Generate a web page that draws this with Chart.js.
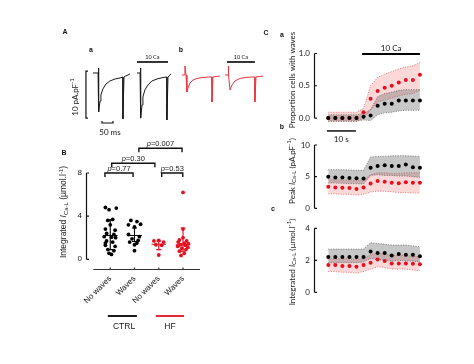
<!DOCTYPE html>
<html>
<head>
<meta charset="utf-8">
<script src="https://cdn.jsdelivr.net/npm/chart.js@4/dist/chart.umd.min.js"></script>
<style>
  body { margin: 0; background: #fff; }
  #page { position: relative; width: 474px; height: 364px; overflow: hidden; background: #fff; }
  canvas { position: absolute; }
</style>
</head>
<body>
<div id="page">
  <canvas id="tracesChart" width="205" height="115" style="left:60px;top:25px"></canvas>
  <canvas id="scatterChart" width="160" height="228" style="left:50px;top:136px"></canvas>
  <canvas id="wavesChart" width="175" height="120" style="left:260px;top:25px"></canvas>
  <canvas id="peakChart" width="175" height="95" style="left:260px;top:125px"></canvas>
  <canvas id="integralChart" width="175" height="125" style="left:260px;top:205px"></canvas>
</div>
<script>
// ---- Panel A: example I_Ca-L sweeps, [time ms, current pA/pF]
const ctrlSweep1 = [[150,0],[173,0],[173,1.06],[177,0],[177,-8.3],[182,-5.96],[186,-4.68],[195,-3.4],[209,-2.34],[227,-1.7],[250,-1.28],[273,-1.06],[286,-0.85],[286,-9.8],[291,-0.85],[300,-0.6],[309,-0.43],[318,-0.2]];
const ctrlSweep2 = [[350,0],[364,0],[364,1.06],[368,0],[368,-9.6],[373,-6.8],[377,-5.1],[386,-3.6],[400,-2.55],[418,-1.7],[441,-1.28],[468,-0.96],[486,-0.85],[486,-10.0],[491,-0.85],[500,-0.43],[505,-0.2]];
const hfSweep1 = [[555,-0.43],[568,-0.43],[568,1.49],[573,-0.43],[577,-4.04],[582,-3.2],[591,-2.13],[605,-1.49],[623,-1.17],[650,-0.96],[673,-0.85],[691,-0.85],[691,-6.17],[695,-0.85],[714,-0.74],[727,-0.64]];
const hfSweep2 = [[750,-0.43],[764,-0.43],[764,1.49],[768,-0.43],[773,-3.62],[782,-2.55],[795,-1.7],[818,-1.17],[845,-0.96],[873,-0.85],[886,-0.85],[886,-6.17],[891,-0.85],[909,-0.74],[923,-0.64]];

// ---- Panel B: integrated I_Ca-L per cell (umol/l)
const groupLabels = ["No waves", "Waves", "No waves", "Waves"];
const ctrlNoWaves = [4.8, 4.75, 4.6, 3.7, 3.6, 3.2, 2.8, 2.7, 2.4, 2.3, 2.1, 2.05, 2.0, 1.7, 1.6, 1.3, 1.2, 0.9, 0.8, 0.55, 0.45, 1.5];
const ctrlNoWavesJitter = [-0.2, 0.25, -0.05, 0.1, -0.1, 0.0, -0.2, 0.2, -0.15, 0.15, -0.25, 0.05, 0.22, -0.15, 0.1, -0.2, 0.2, -0.1, 0.15, -0.05, 0.05, -0.2];
const ctrlWaves = [3.6, 3.5, 3.2, 3.25, 3.0, 2.3, 2.1, 1.9, 1.75, 1.6, 1.5, 1.35, 0.8];
const ctrlWavesJitter = [-0.15, 0.1, -0.25, 0.25, 0.0, -0.25, 0.2, -0.1, 0.15, -0.2, 0.1, 0.0, 0.0];
const hfNoWaves = [1.7, 1.75, 1.6, 1.35, 1.3, 0.4];
const hfNoWavesJitter = [-0.2, 0.0, 0.2, -0.12, 0.12, 0.0];
const hfWaves = [6.2, 2.8, 2.0, 1.8, 1.7, 1.6, 1.5, 1.45, 1.35, 1.3, 1.2, 1.1, 1.0, 0.9, 0.75, 0.55, 0.35];
const hfWavesJitter = [0, 0, 0, -0.15, 0.15, -0.2, 0.05, 0.22, -0.1, 0.1, -0.22, 0.2, -0.05, 0.12, -0.15, 0.05, -0.08];
const groupMean = [2.2, 2.2, 1.4, 1.35];
const groupHigh = [3.65, 2.9, 1.7, 2.9];
const groupLow = [0.9, 1.65, 0.9, 0.75];
const pValues = ["0.77", "0.30", "0.007", "0.53"];
const bTicks = [0, 4, 8];

// ---- Panel C: time course, one point every 2.5 s
const timeS = [0, 2.5, 5, 7.5, 10, 12.5, 15, 17.5, 20, 22.5, 25, 27.5, 30, 32.5];
const wavesCtrl = [0, 0, 0, 0, 0, 0.02, 0.04, 0.19, 0.22, 0.22, 0.27, 0.27, 0.27, 0.27];
const wavesCtrlHi = [0.05, 0.05, 0.05, 0.05, 0.05, 0.07, 0.13, 0.33, 0.38, 0.4, 0.43, 0.44, 0.44, 0.44];
const wavesCtrlLo = [-0.05, -0.05, -0.05, -0.05, -0.05, -0.03, -0.04, 0.05, 0.08, 0.09, 0.11, 0.12, 0.12, 0.12];
const wavesHf = [0, 0, 0, 0, 0, 0.09, 0.3, 0.42, 0.47, 0.5, 0.55, 0.59, 0.59, 0.67];
const wavesHfHi = [0.09, 0.09, 0.09, 0.09, 0.09, 0.15, 0.5, 0.63, 0.68, 0.72, 0.76, 0.79, 0.81, 0.86];
const wavesHfLo = [-0.05, -0.05, -0.05, -0.05, -0.05, 0.0, 0.12, 0.25, 0.28, 0.31, 0.34, 0.37, 0.38, 0.43];
const peakCtrl = [5.0, 4.85, 4.85, 4.8, 4.75, 4.7, 6.4, 6.7, 6.8, 6.7, 6.7, 6.9, 6.5, 6.4];
const peakCtrlHi = [6.1, 6.1, 6.1, 6.05, 6.0, 6.0, 8.1, 8.2, 8.2, 8.3, 8.3, 8.3, 8.25, 8.2];
const peakCtrlLo = [4.0, 4.0, 3.95, 3.9, 3.9, 3.85, 5.2, 5.3, 5.2, 5.2, 5.1, 5.1, 5.0, 4.9];
const peakHf = [3.4, 3.3, 3.25, 3.2, 3.05, 3.3, 3.9, 4.3, 4.2, 4.05, 3.95, 4.1, 4.05, 4.05];
const peakHfHi = [4.5, 4.5, 4.45, 4.45, 4.4, 4.5, 5.3, 5.6, 5.6, 5.5, 5.5, 5.6, 5.6, 5.6];
const peakHfLo = [2.3, 2.3, 2.2, 2.2, 2.1, 2.2, 2.6, 2.7, 2.7, 2.6, 2.5, 2.5, 2.4, 2.4];
const integCtrl = [2.2, 2.2, 2.2, 2.2, 2.2, 2.2, 2.55, 2.45, 2.45, 2.3, 2.4, 2.35, 2.35, 2.25];
const integCtrlHi = [2.7, 2.7, 2.7, 2.7, 2.7, 2.7, 3.1, 3.05, 3.0, 2.95, 2.95, 2.95, 2.9, 2.85];
const integCtrlLo = [1.85, 1.85, 1.85, 1.85, 1.85, 1.9, 2.1, 2.05, 2.0, 1.95, 2.0, 1.95, 1.95, 1.9];
const integHf = [1.7, 1.7, 1.65, 1.65, 1.6, 1.7, 1.85, 2.05, 1.95, 1.8, 1.8, 1.8, 1.78, 1.75];
const integHfHi = [2.1, 2.1, 2.1, 2.1, 2.05, 2.1, 2.35, 2.45, 2.4, 2.3, 2.3, 2.3, 2.25, 2.2];
const integHfLo = [1.3, 1.3, 1.25, 1.25, 1.2, 1.3, 1.45, 1.6, 1.55, 1.45, 1.45, 1.45, 1.4, 1.35];
const waveTicks = [0, 0.5, 1];
const peakTicks = [0, 5, 10];
const integTicks = [0, 2, 4];

const RED = "#e3101f";
const TRACE_RED = "#e8343f";
const SANS = "'Liberation Sans', Arial, sans-serif";
const CAL = "Lato, 'Open Sans', sans-serif";

// text with italic / sub / superscript pieces, centred on (x, y)
function richText(ctx, parts, x, y, size, family, rotate) {
  const fontFor = (p) => (p.i ? "italic " : "") + (p.sub || p.sup ? Math.round(size * 0.72) : size) + "px " + family;
  ctx.save();
  ctx.translate(x, y);
  if (rotate) ctx.rotate(-Math.PI / 2);
  let total = 0;
  parts.forEach((p) => { ctx.font = fontFor(p); total += ctx.measureText(p.t).width; });
  let cx = -total / 2;
  ctx.textAlign = "left";
  ctx.textBaseline = "middle";
  ctx.fillStyle = "#222";
  parts.forEach((p) => {
    ctx.font = fontFor(p);
    const dy = p.sub ? size * 0.3 : p.sup ? -size * 0.35 : 0;
    ctx.fillText(p.t, cx, dy);
    cx += ctx.measureText(p.t).width;
  });
  ctx.restore();
}

function label(ctx, text, x, y, font, align) {
  ctx.save();
  ctx.font = font;
  ctx.fillStyle = "#111";
  ctx.textAlign = align || "center";
  ctx.textBaseline = "middle";
  ctx.fillText(text, x, y);
  ctx.restore();
}

function hLine(ctx, x1, x2, y, w, color) {
  ctx.save();
  ctx.strokeStyle = color || "#000";
  ctx.lineWidth = w;
  ctx.beginPath();
  ctx.moveTo(x1, y);
  ctx.lineTo(x2, y);
  ctx.stroke();
  ctx.restore();
}

// y axis line spanning only the tick range, with short inward ticks
function inwardYAxis(ticks) {
  return {
    id: "inwardYAxis",
    afterDraw(chart) {
      const { ctx, chartArea, scales: { y } } = chart;
      const x0 = Math.round(chartArea.left) + 0.5;
      ctx.save();
      ctx.strokeStyle = "#111";
      ctx.lineWidth = 1.2;
      ctx.beginPath();
      ctx.moveTo(x0, y.getPixelForValue(ticks[0]));
      ctx.lineTo(x0, y.getPixelForValue(ticks[ticks.length - 1]));
      ticks.forEach((v) => {
        const py = y.getPixelForValue(v);
        ctx.moveTo(x0, py);
        ctx.lineTo(x0 + 2.5, py);
      });
      ctx.stroke();
      ctx.restore();
    },
  };
}

// ---------------- Panel A ----------------
const toXY = (arr) => arr.map((p) => ({ x: p[0], y: p[1] }));
const traceSet = (arr, color) => ({ data: toXY(arr), borderColor: color, borderWidth: 1, pointRadius: 0, tension: 0, fill: false });

new Chart(document.getElementById("tracesChart"), {
  type: "line",
  data: {
    datasets: [
      traceSet(ctrlSweep1, "#1a1a1a"),
      traceSet(ctrlSweep2, "#1a1a1a"),
      traceSet(hfSweep1, TRACE_RED),
      traceSet(hfSweep2, TRACE_RED),
    ],
  },
  options: {
    responsive: false,
    animation: false,
    layout: { padding: 0 },
    plugins: { legend: { display: false }, tooltip: { enabled: false } },
    scales: {
      x: { type: "linear", display: false, min: 0, max: 932 },
      y: { display: false, min: -14.26, max: 10.21 },
    },
  },
  plugins: [{
    id: "panelA",
    afterDraw(chart) {
      const { ctx, scales: { x, y } } = chart;
      label(ctx, "A", 5, 7, "bold 7px " + SANS);
      label(ctx, "a", 31, 25, "bold 7px " + SANS);
      label(ctx, "b", 121, 25, "bold 7px " + SANS);

      // 10 pA/pF scale bar
      const sx = x.getPixelForValue(118);
      const top = y.getPixelForValue(0.4), bot = y.getPixelForValue(-9.6);
      ctx.save();
      ctx.strokeStyle = "#111";
      ctx.lineWidth = 1.2;
      ctx.beginPath();
      ctx.moveTo(sx + 2, top); ctx.lineTo(sx, top); ctx.lineTo(sx, bot); ctx.lineTo(sx + 2, bot);
      // 50 ms scale bar
      const by = y.getPixelForValue(-10.64);
      ctx.moveTo(x.getPixelForValue(191), by - 2);
      ctx.lineTo(x.getPixelForValue(191), by);
      ctx.lineTo(x.getPixelForValue(241), by);
      ctx.lineTo(x.getPixelForValue(241), by - 2);
      ctx.stroke();
      ctx.restore();
      richText(ctx, [{ t: "10 pA.pF" }, { t: "-1", sup: 1 }], x.getPixelForValue(68), y.getPixelForValue(-5.1), 8, CAL, true);
      label(ctx, "50 ms", x.getPixelForValue(227), y.getPixelForValue(-12.6), "8px " + CAL);

      // 10 Ca bars
      const cy = y.getPixelForValue(2.34);
      hLine(ctx, x.getPixelForValue(350), x.getPixelForValue(491), cy, 1.6, "#000");
      hLine(ctx, x.getPixelForValue(759), x.getPixelForValue(886), cy, 1.6, "#000");
      label(ctx, "10 Ca", x.getPixelForValue(420), y.getPixelForValue(3.3), "5.5px " + CAL);
      label(ctx, "10 Ca", x.getPixelForValue(822), y.getPixelForValue(3.3), "5.5px " + CAL);
    },
  }],
});

// ---------------- Panel B ----------------
const groupPoints = (vals, jitter, idx) => vals.map((v, i) => ({ x: idx + 1 + jitter[i], y: v }));
const dotSet = (data, color) => ({ data, backgroundColor: color, borderColor: color, borderWidth: 0, pointRadius: 1.9 });

new Chart(document.getElementById("scatterChart"), {
  type: "scatter",
  data: {
    datasets: [
      dotSet(groupPoints(ctrlNoWaves, ctrlNoWavesJitter, 0), "#000"),
      dotSet(groupPoints(ctrlWaves, ctrlWavesJitter, 1), "#000"),
      dotSet(groupPoints(hfNoWaves, hfNoWavesJitter, 2), RED),
      dotSet(groupPoints(hfWaves, hfWavesJitter, 3), RED),
    ],
  },
  options: {
    responsive: false,
    animation: false,
    layout: { padding: { left: 0, right: 10, top: 37, bottom: 55 } },
    plugins: { legend: { display: false }, tooltip: { enabled: false } },
    scales: {
      x: {
        type: "linear",
        min: 0,
        max: 4.7,
        afterBuildTicks: (s) => { s.ticks = [1, 2, 3, 4].map((v) => ({ value: v })); },
        afterFit: (s) => { s.height = 40; },
        grid: { display: false, drawTicks: false },
        border: { display: false },
        ticks: {
          autoSkip: false,
          minRotation: 45,
          maxRotation: 45,
          padding: 5,
          color: "#111",
          font: { family: SANS, size: 8 },
          callback: (v) => groupLabels[v - 1],
        },
      },
      y: {
        min: -0.9,
        max: 8,
        afterBuildTicks: (s) => { s.ticks = bTicks.map((v) => ({ value: v })); },
        afterFit: (s) => { s.width = 36; },
        grid: { display: false, drawTicks: false },
        border: { display: false },
        ticks: { padding: 4, color: "#111", font: { family: SANS, size: 8 } },
      },
    },
  },
  plugins: [
    inwardYAxis(bTicks),
    {
      id: "panelB",
      afterDatasetsDraw(chart) {
        const { ctx, scales: { x, y } } = chart;
        // mean and error bars
        groupMean.forEach((m, i) => {
          const color = i < 2 ? "#000" : RED;
          const cx = x.getPixelForValue(i + 1);
          ctx.save();
          ctx.strokeStyle = color;
          ctx.lineWidth = 1.1;
          ctx.beginPath();
          ctx.moveTo(x.getPixelForValue(i + 0.7), y.getPixelForValue(m));
          ctx.lineTo(x.getPixelForValue(i + 1.3), y.getPixelForValue(m));
          ctx.moveTo(cx, y.getPixelForValue(groupLow[i]));
          ctx.lineTo(cx, y.getPixelForValue(groupHigh[i]));
          [groupLow[i], groupHigh[i]].forEach((v) => {
            ctx.moveTo(cx - 2.5, y.getPixelForValue(v));
            ctx.lineTo(cx + 2.5, y.getPixelForValue(v));
          });
          ctx.stroke();
          ctx.restore();
        });
      },
      afterDraw(chart) {
        const { ctx, chartArea, scales: { x, y } } = chart;
        // x axis line with inward ticks
        const by = Math.round(chartArea.bottom) + 0.5;
        ctx.save();
        ctx.strokeStyle = "#333";
        ctx.lineWidth = 1.2;
        ctx.beginPath();
        ctx.moveTo(x.getPixelForValue(0.3), by);
        ctx.lineTo(x.getPixelForValue(4.7), by);
        [1, 2, 3, 4].forEach((v) => {
          ctx.moveTo(x.getPixelForValue(v), by);
          ctx.lineTo(x.getPixelForValue(v), by - 2);
        });
        ctx.stroke();
        ctx.restore();

        // significance brackets
        const brackets = [[0.78, 1.94, 8.0], [1.06, 2.84, 8.9], [2.18, 3.96, 10.3], [3.12, 3.99, 8.0]];
        brackets.forEach((b, i) => {
          const x1 = x.getPixelForValue(b[0]), x2 = x.getPixelForValue(b[1]), py = y.getPixelForValue(b[2]);
          ctx.save();
          ctx.strokeStyle = "#111";
          ctx.lineWidth = 1.4;
          ctx.beginPath();
          ctx.moveTo(x1, py + 4); ctx.lineTo(x1, py); ctx.lineTo(x2, py); ctx.lineTo(x2, py + 4);
          ctx.stroke();
          ctx.restore();
          richText(ctx, [{ t: "p", i: 1 }, { t: "=" + pValues[i] }], (x1 + x2) / 2, py - 4.5, 7.5, SANS, false);
        });

        label(ctx, "B", 14, 17, "bold 7px " + SANS);
        richText(ctx, [{ t: "Integrated " }, { t: "I", i: 1 }, { t: "Ca-L", sub: 1 }, { t: " (µmol.l" }, { t: "-1", sup: 1 }, { t: ")" }], 14, 76, 8.5, SANS, true);

        // group legend
        const ly = chartArea.bottom + 47;
        hLine(ctx, x.getPixelForValue(0.9), x.getPixelForValue(2.1), ly, 1.8, "#000");
        hLine(ctx, x.getPixelForValue(2.88), x.getPixelForValue(4.04), ly, 1.8, RED);
        label(ctx, "CTRL", x.getPixelForValue(1.57), ly + 11, "8.5px " + SANS);
        label(ctx, "HF", x.getPixelForValue(3.46), ly + 11, "8.5px " + SANS);
      },
    },
  ],
});

// ---------------- Panel C ----------------
function timeChart(id, o) {
  const pts = (arr) => arr.map((v, i) => ({ x: timeS[i], y: v }));
  const edge = (arr, color, fill, bg, order) => ({
    data: pts(arr), borderColor: color, borderWidth: 0.8, borderDash: [1, 1.5],
    pointRadius: 0, tension: 0, fill: fill, backgroundColor: bg, order: order,
  });
  const dots = (arr, color, order) => ({
    data: pts(arr), showLine: false, pointRadius: 2, pointBorderWidth: 0,
    pointBackgroundColor: color, borderColor: color, backgroundColor: color, order: order,
  });
  return new Chart(document.getElementById(id), {
    type: "line",
    data: {
      datasets: [
        edge(o.hfLo, "rgba(225,60,60,0.85)", false, "transparent", 3),
        edge(o.hfHi, "rgba(225,60,60,0.85)", "-1", "rgba(240,60,60,0.2)", 3),
        edge(o.ctrlLo, "rgba(60,60,60,0.8)", false, "transparent", 2),
        edge(o.ctrlHi, "rgba(60,60,60,0.8)", "-1", "rgba(100,100,100,0.36)", 2),
        dots(o.hf, RED, 1),
        dots(o.ctrl, "#000", 0),
      ],
    },
    options: {
      responsive: false,
      animation: false,
      layout: { padding: { left: 0, right: 10, top: o.top, bottom: o.bottom } },
      plugins: { legend: { display: false }, tooltip: { enabled: false } },
      scales: {
        x: { type: "linear", display: false, min: -5.07, max: 34.3 },
        y: {
          min: o.min,
          max: o.max,
          afterBuildTicks: (s) => { s.ticks = o.ticks.map((v) => ({ value: v })); },
          afterFit: (s) => { s.width = 54; },
          grid: { display: false, drawTicks: false },
          border: { display: false },
          ticks: { padding: 4, color: "#222", font: { family: CAL, size: 8 }, callback: o.fmt },
        },
      },
    },
    plugins: [inwardYAxis(o.ticks), { id: "extra" + id, afterDraw: o.extra }],
  });
}

timeChart("wavesChart", {
  ctrl: wavesCtrl, ctrlHi: wavesCtrlHi, ctrlLo: wavesCtrlLo,
  hf: wavesHf, hfHi: wavesHfHi, hfLo: wavesHfLo,
  min: -0.08, max: 1, top: 28.5, bottom: 21.8, ticks: waveTicks,
  fmt: (v) => v.toFixed(1),
  extra(chart) {
    const { ctx, scales: { x, y } } = chart;
    label(ctx, "C", 6, 8, "bold 7px " + SANS);
    label(ctx, "a", 22, 10, "bold 7px " + SANS);
    label(ctx, "b", 22, 102, "bold 7px " + SANS);
    const cy = y.getPixelForValue(1.0);
    hLine(ctx, x.getPixelForValue(12), x.getPixelForValue(32.5), cy + 0.5, 2, "#000");
    label(ctx, "10 Ca", x.getPixelForValue(22.3), cy - 5, "8px " + CAL);
    const sy = y.getPixelForValue(-0.2);
    hLine(ctx, x.getPixelForValue(-0.5), x.getPixelForValue(9.8), sy, 1.4, "#000");
    label(ctx, "10 s", x.getPixelForValue(4.6), y.getPixelForValue(-0.33), "8px " + CAL);
    richText(ctx, [{ t: "Proportion cells with waves" }], 32, 55, 8, CAL, true);
  },
});

timeChart("peakChart", {
  ctrl: peakCtrl, ctrlHi: peakCtrlHi, ctrlLo: peakCtrlLo,
  hf: peakHf, hfHi: peakHfHi, hfLo: peakHfLo,
  min: 0, max: 10, top: 20, bottom: 11.7, ticks: peakTicks,
  fmt: (v) => String(v),
  extra(chart) {
    const { ctx } = chart;
    label(ctx, "c", 13, 84, "bold 7px " + SANS);
    richText(ctx, [{ t: "Peak " }, { t: "I", i: 1 }, { t: "Ca-L", sub: 1 }, { t: " (pA.pF" }, { t: "-1", sup: 1 }, { t: ")" }], 32, 46, 8, CAL, true);
  },
});

timeChart("integralChart", {
  ctrl: integCtrl, ctrlHi: integCtrlHi, ctrlLo: integCtrlLo,
  hf: integHf, hfHi: integHfHi, hfLo: integHfLo,
  min: 0, max: 4, top: 23.3, bottom: 37.7, ticks: integTicks,
  fmt: (v) => String(v),
  extra(chart) {
    const { ctx } = chart;
    richText(ctx, [{ t: "Integrated " }, { t: "I", i: 1 }, { t: "Ca-L", sub: 1 }, { t: " (µmol.l" }, { t: "-1", sup: 1 }, { t: ")" }], 32, 57, 8, CAL, true);
  },
});
</script>
</body>
</html>
